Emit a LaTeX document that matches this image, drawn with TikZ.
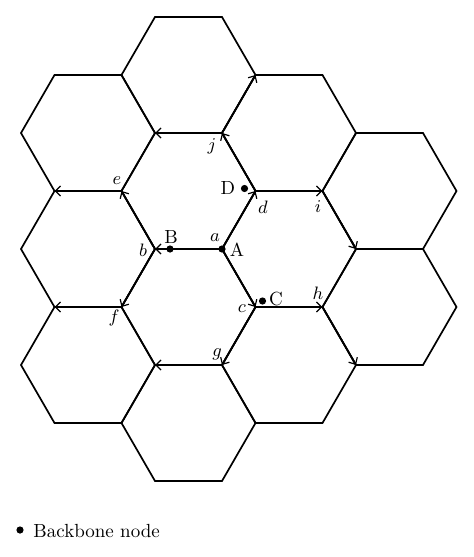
\documentclass[tikz,border=0pt]{standalone}
\usetikzlibrary{arrows.meta}
\begin{document}
\begin{tikzpicture}[x=0.5pt,y=-0.5pt,
  hexline/.style={line width=0.85pt,line join=miter},
  route/.style={line width=0.85pt,-{Straight Barb[length=2.6pt,width=5pt,line width=0.6pt]}},
  bbdot/.style={circle,fill=black,inner sep=0pt,minimum size=3.6pt},
  lbl/.style={inner sep=0pt,font=\fontsize{9.5}{11}\selectfont}]
\useasboundingbox (0,0) rectangle (474,557);
% hexagon grid
\foreach \cx/\cy in {88/133,88/249,88/365,188.5/75,188.5/191,188.5/307,188.5/423,289/133,289/249,289/365,389.5/191,389.5/307}
  \draw[hexline] (\cx+67,\cy) -- (\cx+33.5,\cy+58) -- (\cx-33.5,\cy+58) -- (\cx-67,\cy) -- (\cx-33.5,\cy-58) -- (\cx+33.5,\cy-58) -- cycle;
% named vertices
\coordinate (a) at (222,249);
\coordinate (b) at (155,249);
\coordinate (c) at (255.5,307);
\coordinate (d) at (255.5,191);
\coordinate (e) at (121.5,191);
\coordinate (f) at (121.5,307);
\coordinate (g) at (222,365);
\coordinate (h) at (322.5,307);
\coordinate (i) at (322.5,191);
\coordinate (j) at (222,133);
\coordinate (t1) at (255.5,75);
\coordinate (t2) at (155,133);
\coordinate (t3) at (54.5,191);
\coordinate (t4) at (356,249);
\coordinate (t5) at (54.5,307);
\coordinate (t6) at (155,365);
\coordinate (t7) at (356,365);
% routes
\draw[route] (a) -- (b);
\draw[route] (a) -- (d);
\draw[route] (a) -- (c);
\draw[route] (b) -- (e);
\draw[route] (b) -- (f);
\draw[route] (d) -- (j);
\draw[route] (d) -- (i);
\draw[route] (c) -- (h);
\draw[route] (c) -- (g);
\draw[route] (j) -- (t1);
\draw[route] (j) -- (t2);
\draw[route] (e) -- (t3);
\draw[route] (i) -- (t4);
\draw[route] (f) -- (t5);
\draw[route] (g) -- (t6);
\draw[route] (h) -- (t7);
% backbone nodes
\node[bbdot] (nA) at (a) {};
\node[bbdot] (nB) at (170,249) {};
\node[bbdot] (nC) at (262.5,301) {};
\node[bbdot] (nD) at (244.5,188.5) {};
% labels
\node[lbl] (la) at (215,238) {$a$};
\node[lbl] (lA) at (237,250) {A};
\node[lbl] (lb) at (143,250) {$b$};
\node[lbl] (lB) at (171,237) {B};
\node[lbl] (lc) at (242,309) {$c$};
\node[lbl] (lC) at (276,299) {C};
\node[lbl] (ld) at (263,207) {$d$};
\node[lbl] (lD) at (228,188) {D};
\node[lbl] (le) at (117,181) {$e$};
\node[lbl] (lf) at (114,318) {$f$};
\node[lbl] (lg) at (217,354) {$g$};
\node[lbl] (lh) at (318,293) {$h$};
\node[lbl] (li) at (318,207) {$i$};
\node[lbl] (lj) at (212,146) {$j$};
% legend
\node[bbdot] (legdot) at (20,530) {};
\node[lbl,anchor=west] (legtext) at (33,531) {Backbone node};
\end{tikzpicture}
\end{document}
